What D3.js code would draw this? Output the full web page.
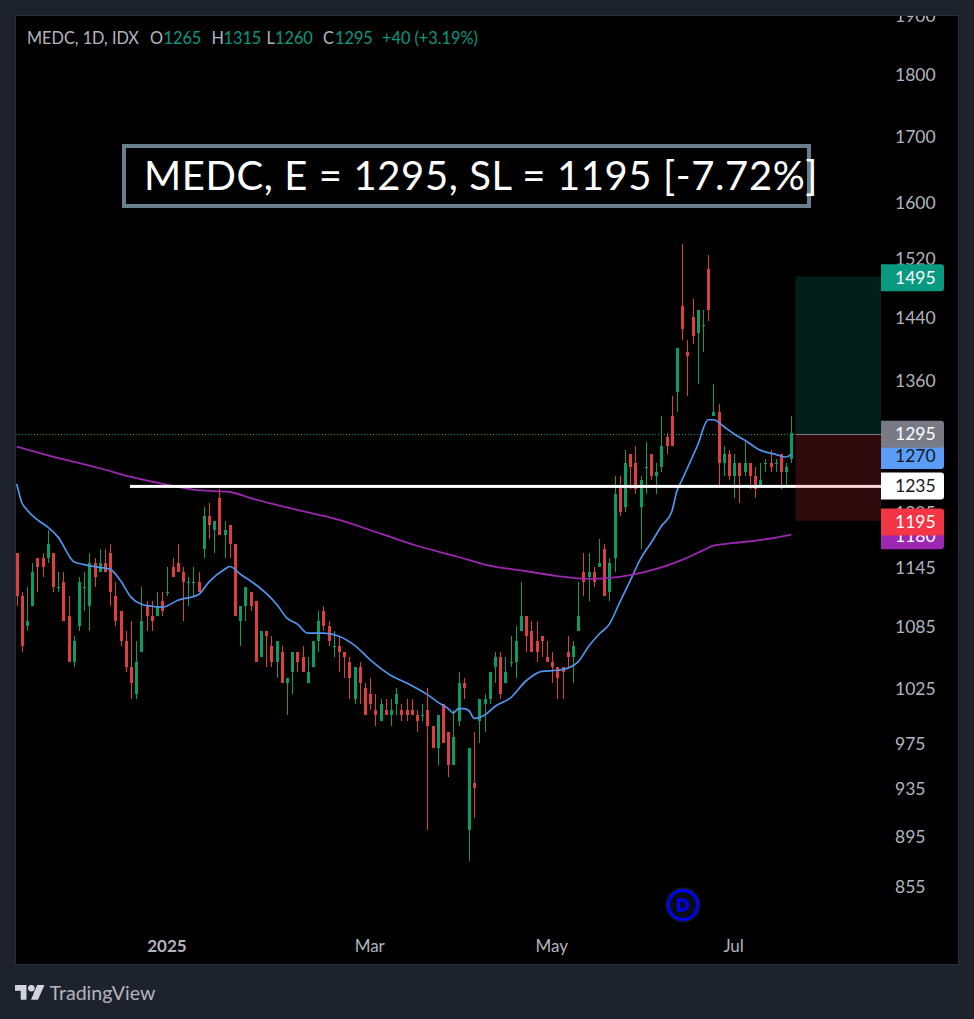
<!DOCTYPE html>
<html><head><meta charset="utf-8">
<script src="https://cdn.jsdelivr.net/npm/d3@7"></script>
<style>html,body{margin:0;padding:0;background:#1e222d;overflow:hidden}svg{display:block}text{font-family:Lato,sans-serif}</style>
</head><body><svg id="c" width="974" height="1019"></svg>
<script>
const opens=[1160,1115,1085,1105,1155,1155,1155,1160,1125,1130,1095,1050,1085,1125,1105,1150,1140,1150,1160,1115,1100,1070,1045,1020,1060,1105,1095,1095,1110,1120,1145,1150,1140,1130,1130,1130,1165,1200,1185,1220,1180,1190,1170,1090,1105,1120,1110,1055,1080,1065,1050,1060,1030,1040,1060,1055,1030,1045,1070,1100,1085,1065,1065,1060,1050,1015,1045,1025,1020,1005,995,1005,1000,1010,1005,1005,1005,1000,1000,1005,990,970,1010,985,955,995,1030,900,940,995,1010,1015,1045,1055,1030,1050,1050,1080,1095,1080,1070,1075,1055,1050,1045,1045,1060,1055,1080,1140,1135,1140,1145,1165,1120,1155,1235,1210,1270,1260,1210,1255,1270,1245,1255,1290,1315,1345,1455,1395,1440,1420,1430,1505,1315,1320,1260,1270,1245,1260,1250,1260,1245,1235,1260,1260,1260,1270,1250,1265];
const highs=[1160,1120,1125,1150,1155,1160,1185,1160,1140,1140,1115,1075,1135,1140,1160,1155,1165,1165,1170,1130,1100,1080,1090,1070,1125,1110,1110,1120,1120,1145,1155,1170,1145,1135,1145,1140,1210,1215,1195,1230,1195,1190,1170,1105,1125,1120,1110,1080,1080,1075,1070,1065,1035,1060,1060,1065,1055,1070,1100,1105,1090,1080,1075,1060,1055,1045,1050,1030,1035,1020,1015,1015,1015,1025,1010,1015,1015,1005,1010,1025,990,1000,1010,985,1005,1040,1035,970,985,1015,1020,1040,1060,1060,1055,1075,1085,1130,1095,1090,1090,1075,1070,1060,1045,1045,1075,1070,1130,1160,1160,1145,1175,1170,1155,1245,1245,1275,1270,1280,1245,1285,1270,1260,1315,1295,1340,1400,1540,1410,1465,1450,1450,1525,1355,1330,1280,1275,1270,1260,1285,1260,1255,1260,1265,1275,1265,1270,1260,1315];
const lows=[1105,1060,1080,1105,1120,1135,1150,1120,1120,1090,1050,1045,1080,1100,1080,1125,1140,1140,1105,1085,1065,1040,1015,1015,1060,1080,1080,1095,1095,1115,1135,1140,1090,1105,1115,1120,1155,1175,1160,1180,1155,1155,1095,1065,1090,1100,1050,1055,1045,1045,1035,1030,1000,1020,1040,1040,1030,1045,1060,1080,1065,1055,1040,1035,1015,1010,1010,1000,1005,990,995,1000,990,1000,995,995,1000,985,995,900,970,955,975,945,955,990,1015,875,910,975,985,1010,1030,1015,1030,1045,1035,1080,1060,1060,1050,1055,1050,1030,1015,1015,1045,1030,1080,1115,1110,1125,1145,1115,1110,1140,1200,1205,1230,1225,1165,1225,1240,1225,1250,1270,1280,1320,1410,1340,1405,1355,1395,1435,1315,1235,1245,1240,1220,1215,1245,1230,1220,1235,1250,1250,1250,1230,1235,1260];
const closes=[1115,1065,1090,1140,1145,1145,1170,1125,1125,1090,1050,1070,1130,1125,1150,1135,1150,1140,1120,1090,1070,1045,1030,1050,1090,1095,1090,1105,1100,1120,1135,1140,1130,1130,1130,1120,1200,1190,1195,1180,1185,1170,1095,1105,1125,1105,1050,1080,1075,1050,1070,1030,1035,1060,1050,1040,1040,1070,1090,1085,1070,1065,1060,1055,1035,1045,1030,1000,1010,1000,1010,1000,1005,1020,1000,1000,1000,995,1000,990,970,1000,975,955,980,1030,1025,970,935,1015,1015,1040,1055,1020,1040,1050,1070,1095,1075,1060,1060,1070,1050,1045,1035,1040,1055,1065,1095,1130,1140,1130,1150,1115,1150,1225,1205,1260,1255,1230,1240,1255,1245,1250,1280,1280,1280,1400,1425,1390,1415,1450,1430,1450,1320,1260,1270,1245,1260,1245,1260,1245,1230,1240,1260,1255,1260,1250,1255,1295];
const emaIdx=[0,1,2,4,6,8,11,13,16,18,20,22,24,26,28,31,35,37,40,41,43,46,48,50,52,54,56,59,62,65,68,72,75,79,81,83,84,85,86,87,88,90,92,95,98,101,104,106,108,110,112,114,116,118,120,122,124,126,127,128,129,131,133,134,136,138,140,143,146,148,149];
const emaVal=[1236,1215,1207,1196,1188,1177,1151,1148,1145,1143,1131,1114,1107,1105,1104,1111,1117,1130,1143,1146,1138,1127,1118,1107,1093,1087,1078,1078,1075,1066,1052,1037,1030,1019,1012,1006,1002,1006,1006,1004,997,1000,1008,1016,1032,1041,1042,1044,1050,1065,1077,1087,1109,1131,1154,1171,1189,1205,1228,1241,1254,1281,1311,1311,1303,1294,1287,1275,1270,1267,1270];
const smaIdx=[0,6,16,22,30,35,41,45,54,62,70,77,85,90,98,104,110,114,118,124,128,132,134,138,143,149];
const smaVal=[1279,1269,1254,1244,1234,1229,1227,1220,1207,1196,1181,1168,1156,1148,1141,1136,1133,1134,1137,1145,1153,1163,1168,1171,1174,1180];
const priceTicks=[1900,1800,1700,1600,1520,1440,1360,1205,1145,1085,1025,975,935,895,855];
const timeIdx=[29,68,103,138];
const timeLabels=["2025","Mar","May","Jul"];
const entry=1295, target=1495, stop=1195, level=1235;
const tagVals=[1180,1235,1270,1295,1195,1495];
const tagFill=["#9c27b0","#ffffff","#5b9cf6","#787b86","#f23645","#089981"];
const tagText=["#ffffff","#131722","#131722","#ffffff","#ffffff","#ffffff"];
const titleText="MEDC, E = 1295, SL = 1195 [-7.72%]";
const legend=[["MEDC, 1D, IDX","#b2b5be"],["O","#b2b5be"],["1265","#089981"],["H","#b2b5be"],["1315","#089981"],["L","#b2b5be"],["1260","#089981"],["C","#b2b5be"],["1295","#089981"],["+40 (+3.19%)","#089981"]];
const legendX=[27,150,163.5,211.5,223.5,266.5,275,323,335,382];

const svg=d3.select("#c");
const pane={l:15,t:15,r:959,b:965};
svg.append("rect").attr("width",974).attr("height",1019).attr("fill","#1e222d");
svg.append("rect").attr("x",pane.l+.5).attr("y",pane.t+.5).attr("width",pane.r-pane.l-1).attr("height",pane.b-pane.t-1).attr("fill","#000").attr("stroke","#2a2e39");
const defs=svg.append("defs");
defs.append("clipPath").attr("id","pc").append("rect").attr("x",pane.l+1).attr("y",pane.t+1).attr("width",pane.r-pane.l-2).attr("height",pane.b-pane.t-2);

const x=d3.scaleLinear().domain([0,149]).range([16.7,791.3]);
const y=d3.scaleLog().domain([855,1800]).range([886,74]);
const root=svg.append("g").attr("clip-path","url(#pc)");

// price axis
const yAxis=d3.axisRight(y).tickValues(priceTicks).tickFormat(d3.format("d")).tickSize(0).tickPadding(0);
const ya=root.append("g").attr("transform","translate(895,0.8)").call(yAxis);
ya.select(".domain").remove();
ya.selectAll("text").attr("fill","#b2b5be").style("font-size","17.5px").style("font-family","Lato,sans-serif");

// time axis
const xAxis=d3.axisBottom(x).tickValues(timeIdx).tickFormat((d,i)=>timeLabels[i]).tickSize(0).tickPadding(0);
const xa=root.append("g").attr("transform","translate(-1,940)").call(xAxis);
xa.select(".domain").remove();
xa.selectAll("text").attr("fill","#b2b5be").style("font-size","17px").style("font-family","Lato,sans-serif").style("font-weight",(d,i)=>i==0?700:400);

// dotted entry line
const entryY=Math.round(y(entry))+1.5;
root.append("line").attr("x1",16).attr("x2",x(150)).attr("y1",entryY).attr("y2",entryY)
 .attr("stroke","#089981").attr("stroke-dasharray","1 2");

// candles
const idx=d3.range(opens.length);
const isUp=i=>closes[i]>=opens[i];
const candles=root.append("g");
candles.selectAll("rect.w").data(idx).join("rect").attr("class","w")
 .attr("x",i=>Math.round(x(i))).attr("width",1)
 .attr("y",i=>Math.round(y(highs[i]))).attr("height",i=>Math.max(1,Math.round(y(lows[i]))-Math.round(y(highs[i]))))
 .attr("fill",i=>isUp(i)?"#0a9c62":"#dc3f3f");
candles.selectAll("rect.b").data(idx).join("rect").attr("class","b")
 .attr("x",i=>Math.round(x(i))-1).attr("width",3)
 .attr("y",i=>Math.round(y(Math.max(opens[i],closes[i]))))
 .attr("height",i=>Math.max(1,Math.round(y(Math.min(opens[i],closes[i])))-Math.round(y(Math.max(opens[i],closes[i])))))
 .attr("fill",i=>isUp(i)?"#0a9c62":"#dc3f3f");

// moving averages
const mk=d3.line().x(d=>x(d[0])).y(d=>y(d[1])).curve(d3.curveMonotoneX);
root.append("path").attr("d",mk(d3.zip(emaIdx,emaVal))).attr("fill","none").attr("stroke","#5295ee").attr("stroke-width",1.7);
root.append("path").attr("d",mk(d3.zip(smaIdx,smaVal))).attr("fill","none").attr("stroke","#9c27b0").attr("stroke-width",1.8);

// horizontal level
root.append("rect").attr("x",130).attr("width",751).attr("y",y(level)).attr("height",3).attr("fill","#fff");

// long-position tool
const pL=795.5,pR=881;
root.append("rect").attr("x",pL).attr("width",pR-pL).attr("y",y(target)).attr("height",entryY-y(target)).attr("fill","rgba(8,153,129,0.2)");
root.append("rect").attr("x",pL).attr("width",pR-pL).attr("y",entryY).attr("height",y(stop)-entryY).attr("fill","rgba(242,54,69,0.2)");
root.append("line").attr("x1",pL).attr("x2",pR).attr("y1",entryY).attr("y2",entryY).attr("stroke","#787b86");

// price tags
const tags=root.append("g");
tagVals.forEach((v,i)=>{
  const c=y(v)+1.2, t=c-13.5, b=c+13.5;
  tags.append("path").attr("d",`M881 ${t}H941a3 3 0 0 1 3 3V${b-3}a3 3 0 0 1 -3 3H881Z`).attr("fill",tagFill[i]);
  tags.append("text").attr("x",895).attr("y",c).attr("dy","0.35em").attr("fill",tagText[i]).style("font-size","17.5px").text(v);
});

// title annotation
svg.append("rect").attr("x",124).attr("y",146).attr("width",685).attr("height",60).attr("fill","none").attr("stroke","#6a7f8e").attr("stroke-width",4);
svg.append("text").attr("x",144).attr("y",190).attr("fill","#fff").style("font-size","40px").style("letter-spacing","0.6px").text(titleText);

// legend
const lg=svg.append("g");
legend.forEach((d,i)=>lg.append("text").attr("x",legendX[i]).attr("y",43.5).attr("fill",d[1]).style("font-size","16.3px").text(d[0]));

// D marker
const dm=svg.append("g").attr("transform","translate(683,905)");
dm.append("circle").attr("r",17.5).attr("fill","#131722");
dm.append("circle").attr("r",14.5).attr("fill","#0a0d16").attr("stroke","#0000ff").attr("stroke-width",3);
dm.append("text").attr("text-anchor","middle").attr("dy","0.36em").attr("fill","#0000ff").attr("stroke","#0000ff").attr("stroke-width",0.8).style("font-size","17px").style("font-weight",700).text("D");

// logo
const lo=svg.append("g").attr("transform","translate(15,979.3) scale(.82)").attr("fill","#d1d4dc");
lo.append("path").attr("d","M14 25H7V14H0V7h14v18z");
lo.append("circle").attr("cx",20).attr("cy",11).attr("r",4);
lo.append("path").attr("d","M28 25h-8.5L27 7h9L28 25z");
svg.append("text").attr("x",49.5).attr("y",1000).attr("fill","#b2b5be").style("font-size","19.6px").text("TradingView");
</script></body></html>
